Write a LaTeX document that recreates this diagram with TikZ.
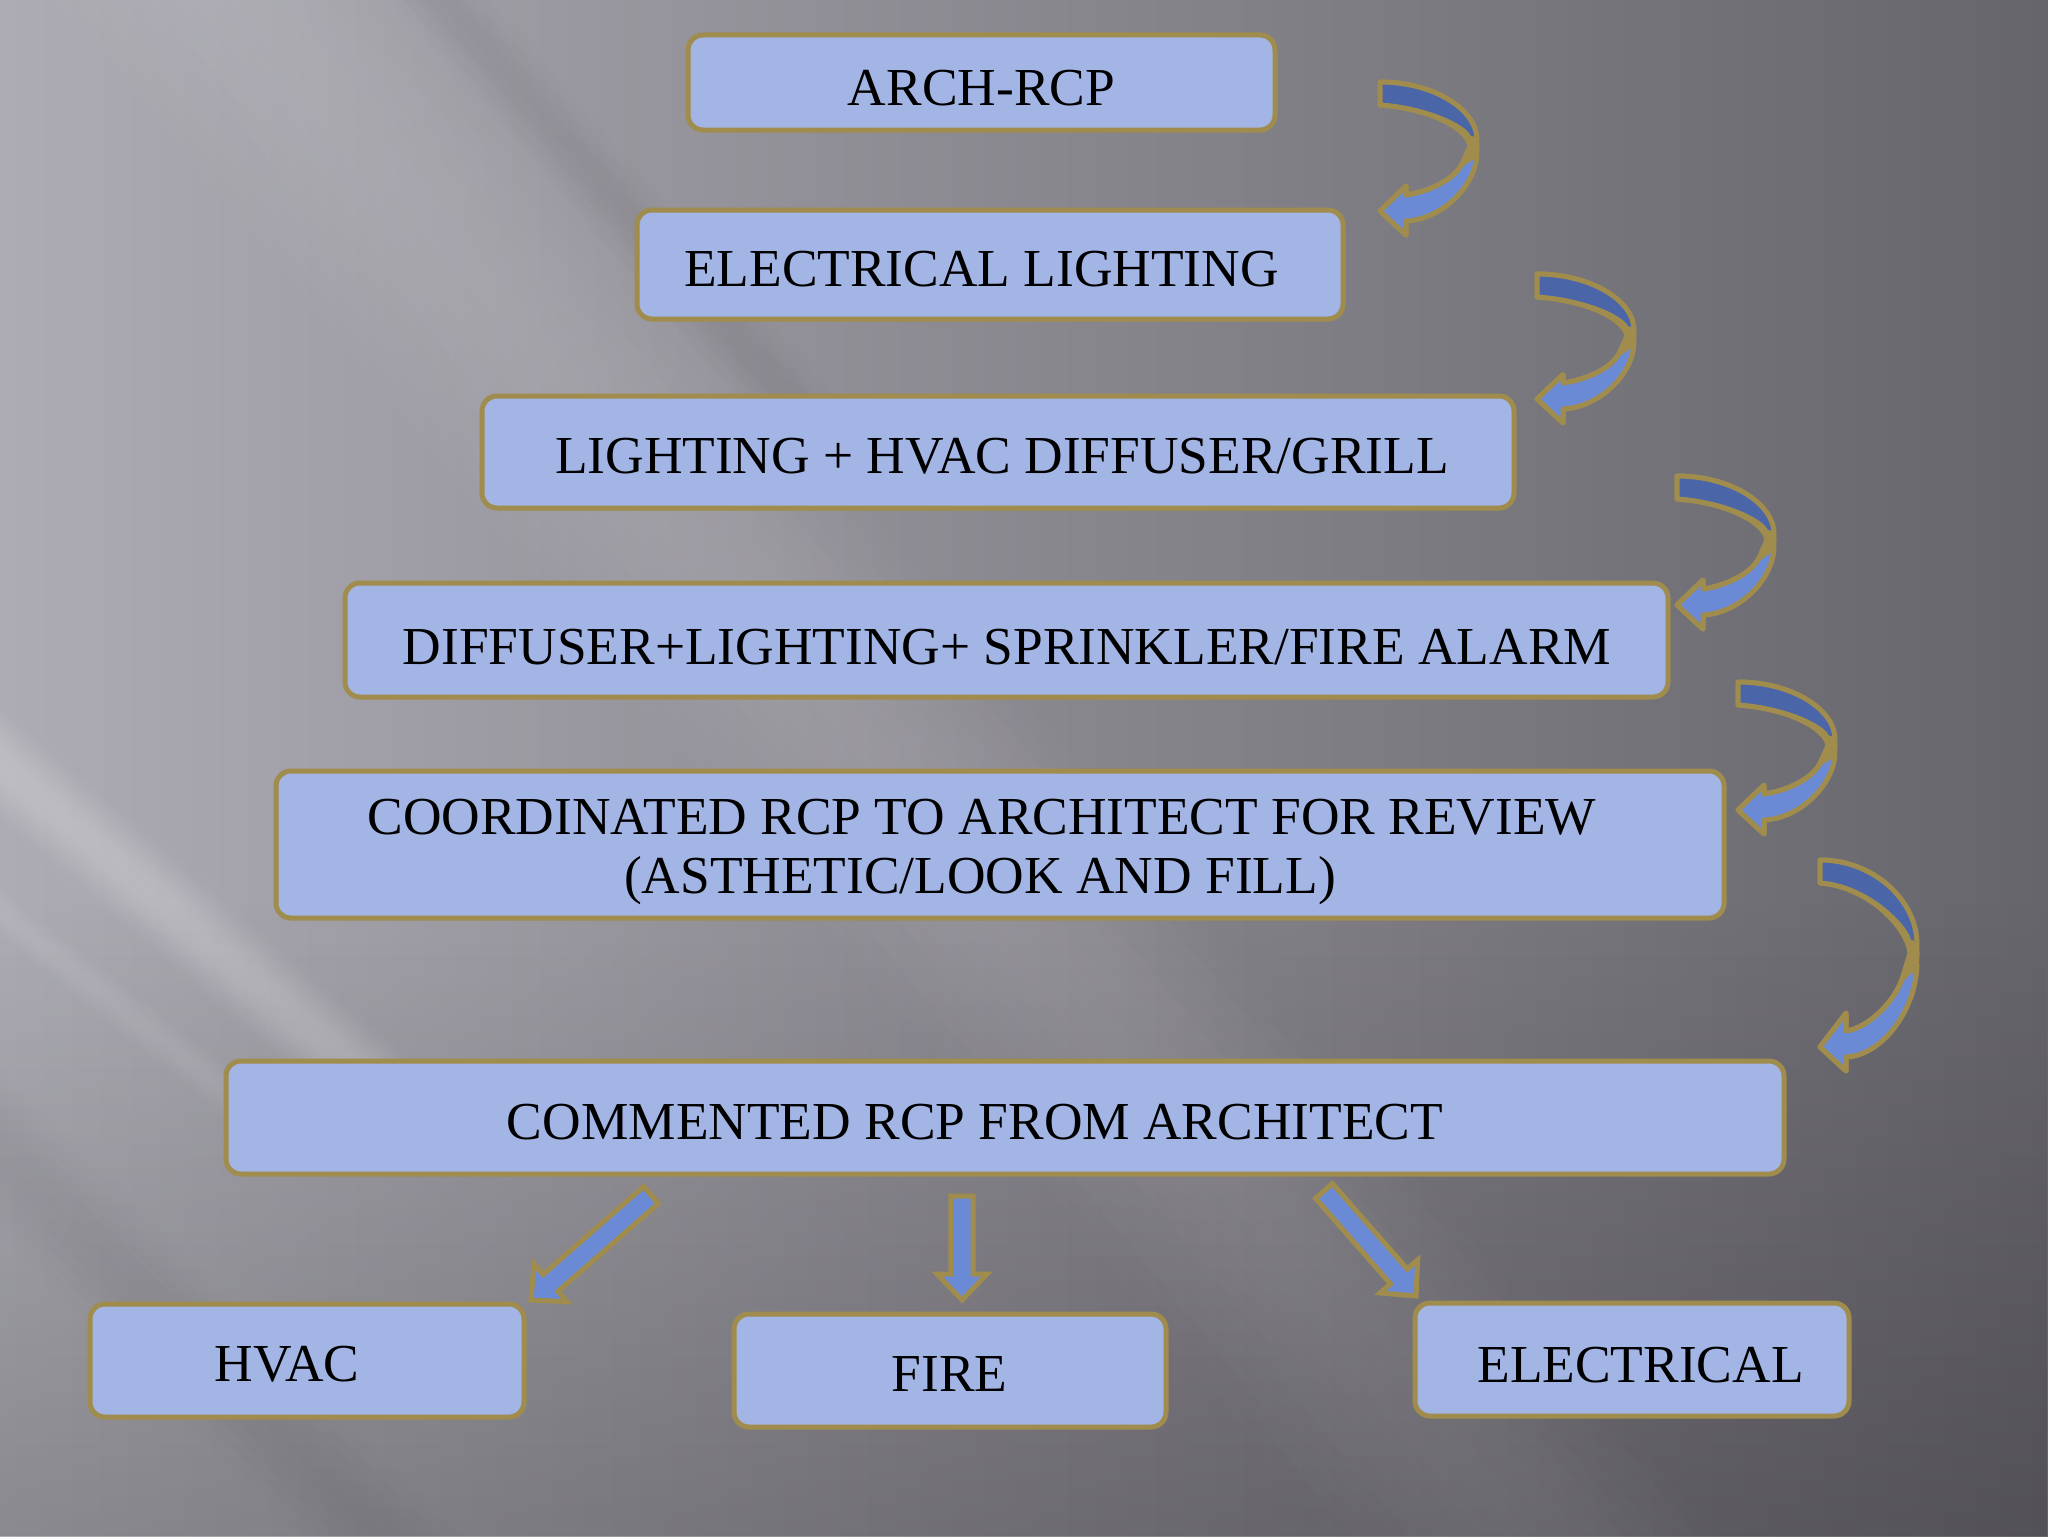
\documentclass[tikz,border=0pt]{standalone}
\usepackage{fontspec}
\setmainfont{Liberation Serif}
\usetikzlibrary{calc,fadings}

\definecolor{boxfill}{HTML}{A3B5E4}
\definecolor{gold}{HTML}{A08C4C}
\definecolor{arrlight}{HTML}{6A8AD6}
\definecolor{arrdark}{HTML}{4A66A8}
\definecolor{bgL}{HTML}{ADACB4}
\definecolor{bgM}{HTML}{8A888F}
\definecolor{bgR}{HTML}{67656C}

\tikzfading[name=botfade, top color=transparent!100, bottom color=transparent!80]

% soft diagonal streak made of thin strips:
% x top, y top, x bottom, y bottom, half width, colour, peak opacity
\newcommand\gstreak[7]{%
  \foreach \i in {0,...,23} {
    \pgfmathsetmacro\m{(\i-11.5)/12}
    \pgfmathsetmacro\op{#7*(1-\m*\m)^2}
    \pgfmathsetmacro\a{(\i-12)/12*#5}
    \pgfmathsetmacro\b{(\i-11)/12*#5}
    \fill[#6, fill opacity=\op] ({#1+\a},#2) -- ({#1+\b},#2) -- ({#3+\b},#4) -- ({#3+\a},#4) -- cycle;
  }}

\newcommand\blockarrow[2]{%
  \coordinate (#1h) at ($(#2)!13pt!(#1)$);
  \draw[blk] ($(#1)!5.6pt!90:(#2)$) -- ($(#1h)!5.6pt!90:(#2)$) -- ($(#1h)!12.5pt!90:(#2)$) -- (#2)
     -- ($(#1h)!12.5pt!-90:(#2)$) -- ($(#1h)!5.6pt!-90:(#2)$) -- ($(#1)!5.6pt!-90:(#2)$) -- cycle;}

% curved arrow: tail top-left x, y, height to tip
\newcommand\curvedarrow[3]{%
  \begin{scope}[shift={(#1,#2)}]
    \pgfmathsetmacro\s{#3/131}
    \pgfmathsetmacro\Hm{#3}
    \pgfmathsetmacro\lb{#3+10}
    \pgfmathsetmacro\lw{#3+24}
    \pgfmathsetmacro\oC{#3+8}
    \pgfmathsetmacro\uw{#3-25-0.155*(#3-131)}
    \pgfmathsetmacro\ub{#3-16}
    \pgfmathsetmacro\iA{#3-19}
    \draw[carr, fill=gold] (2,2) .. controls (55,2) and (99,{29*\s}) .. (99,{66*\s})
      .. controls (99,{100*\s}) and (66,\oC) .. (28,\lb) -- (28,\lw) -- (2,\Hm) -- (28,\uw) -- (28,\ub)
      .. controls (50,\iA) and (76,{100*\s}) .. (84,{84*\s}) -- (92,{66*\s})
      .. controls (89,{47*\s}) and (48,28) .. (2,25) -- cycle;
    \draw[carr, fill=arrlight] (99,{74*\s}) .. controls (98,{104*\s}) and (66,\oC) .. (28,\lb)
      -- (28,\lw) -- (2,\Hm) -- (28,\uw) -- (28,\ub)
      .. controls (50,\iA) and (76,{100*\s}) .. (84,{84*\s}) -- cycle;
    \draw[carr, fill=arrdark] (2,2) .. controls (55,2) and (99,{29*\s}) .. (99,{60*\s}) -- (91,{58*\s})
      .. controls (88,{47*\s}) and (48,28) .. (2,25) -- cycle;
  \end{scope}}

\begin{document}
\begin{tikzpicture}[x=0.5pt,y=-0.5pt,
  box/.style={draw=gold, line width=2.5pt, fill=boxfill, rounded corners=7.5pt, inner sep=0pt},
  lbl/.style={anchor=base, inner sep=0pt, font=\fontsize{26.7}{32}\selectfont, text=black},
  blk/.style={draw=gold, fill=arrlight, line width=2.5pt, line join=miter},
  carr/.style={draw=gold, line width=2.5pt, line join=round}]

% background
\useasboundingbox (0,0) rectangle (2048,1536);
\shade[left color=bgL, right color=bgR, middle color=bgM] (0,0) rectangle (2048,1536);
\gstreak{250}{0}{1525}{1536}{230}{white}{0.09}
\gstreak{440}{0}{860}{480}{55}{black}{0.05}
\gstreak{-120}{660}{380}{1090}{75}{white}{0.2}
\gstreak{-40}{880}{300}{1150}{40}{white}{0.09}
\gstreak{-150}{1000}{380}{1536}{90}{black}{0.05}
\fill[black, path fading=botfade] (0,900) rectangle (2048,1536);

% boxes
\node[box, minimum width=293.5pt, minimum height=47.5pt] (b1) at (981.5,82.5) {};
\node[box, minimum width=353pt, minimum height=54.5pt] (b2) at (990,264.5) {};
\node[box, minimum width=516pt, minimum height=56pt] (b3) at (998,452) {};
\node[box, minimum width=661.5pt, minimum height=57pt] (b4) at (1006.5,640) {};
\node[box, minimum width=724pt, minimum height=73.5pt] (b5) at (1000,844.5) {};
\node[box, minimum width=779pt, minimum height=56.5pt] (b6) at (1005,1117.5) {};
\node[box, minimum width=217pt, minimum height=56.5pt] (b7) at (307,1360.5) {};
\node[box, minimum width=216pt, minimum height=56.5pt] (b8) at (950,1370.5) {};
\node[box, minimum width=217pt, minimum height=56.5pt] (b9) at (1632,1359.5) {};

% labels
\node[lbl] (t1) at (981.5,105) {ARCH-RCP};
\node[lbl] (t2) at (981.5,286) {ELECTRICAL LIGHTING};
\node[lbl] (t3) at (1002,473) {LIGHTING + HVAC DIFFUSER/GRILL};
\node[lbl] (t4) at (1007,664) {DIFFUSER+LIGHTING+ SPRINKLER/FIRE ALARM};
\node[lbl] (t5a) at (982,834) {COORDINATED RCP TO ARCHITECT FOR REVIEW};
\node[lbl] (t5b) at (980,893) {(ASTHETIC/LOOK AND FILL)};
\node[lbl] (t6) at (975,1139) {COMMENTED RCP FROM ARCHITECT};
\node[lbl] (t7) at (287,1381) {HVAC};
\node[lbl] (t8) at (949.5,1391) {FIRE};
\node[lbl] (t9) at (1640.5,1382) {ELECTRICAL};

% curved arrows
\curvedarrow{1378}{80}{131}
\curvedarrow{1535}{272}{127}
\curvedarrow{1675}{474}{131}
\curvedarrow{1736}{680}{130}
\curvedarrow{1818}{858}{189}

% straight block arrows
\coordinate (s1a) at (651,1195); \coordinate (s1b) at (531,1300);
\coordinate (s2a) at (962,1196); \coordinate (s2b) at (962,1300);
\coordinate (s3a) at (1324,1191); \coordinate (s3b) at (1416,1296);
\blockarrow{s1a}{s1b}
\blockarrow{s2a}{s2b}
\blockarrow{s3a}{s3b}
\end{tikzpicture}
\end{document}
